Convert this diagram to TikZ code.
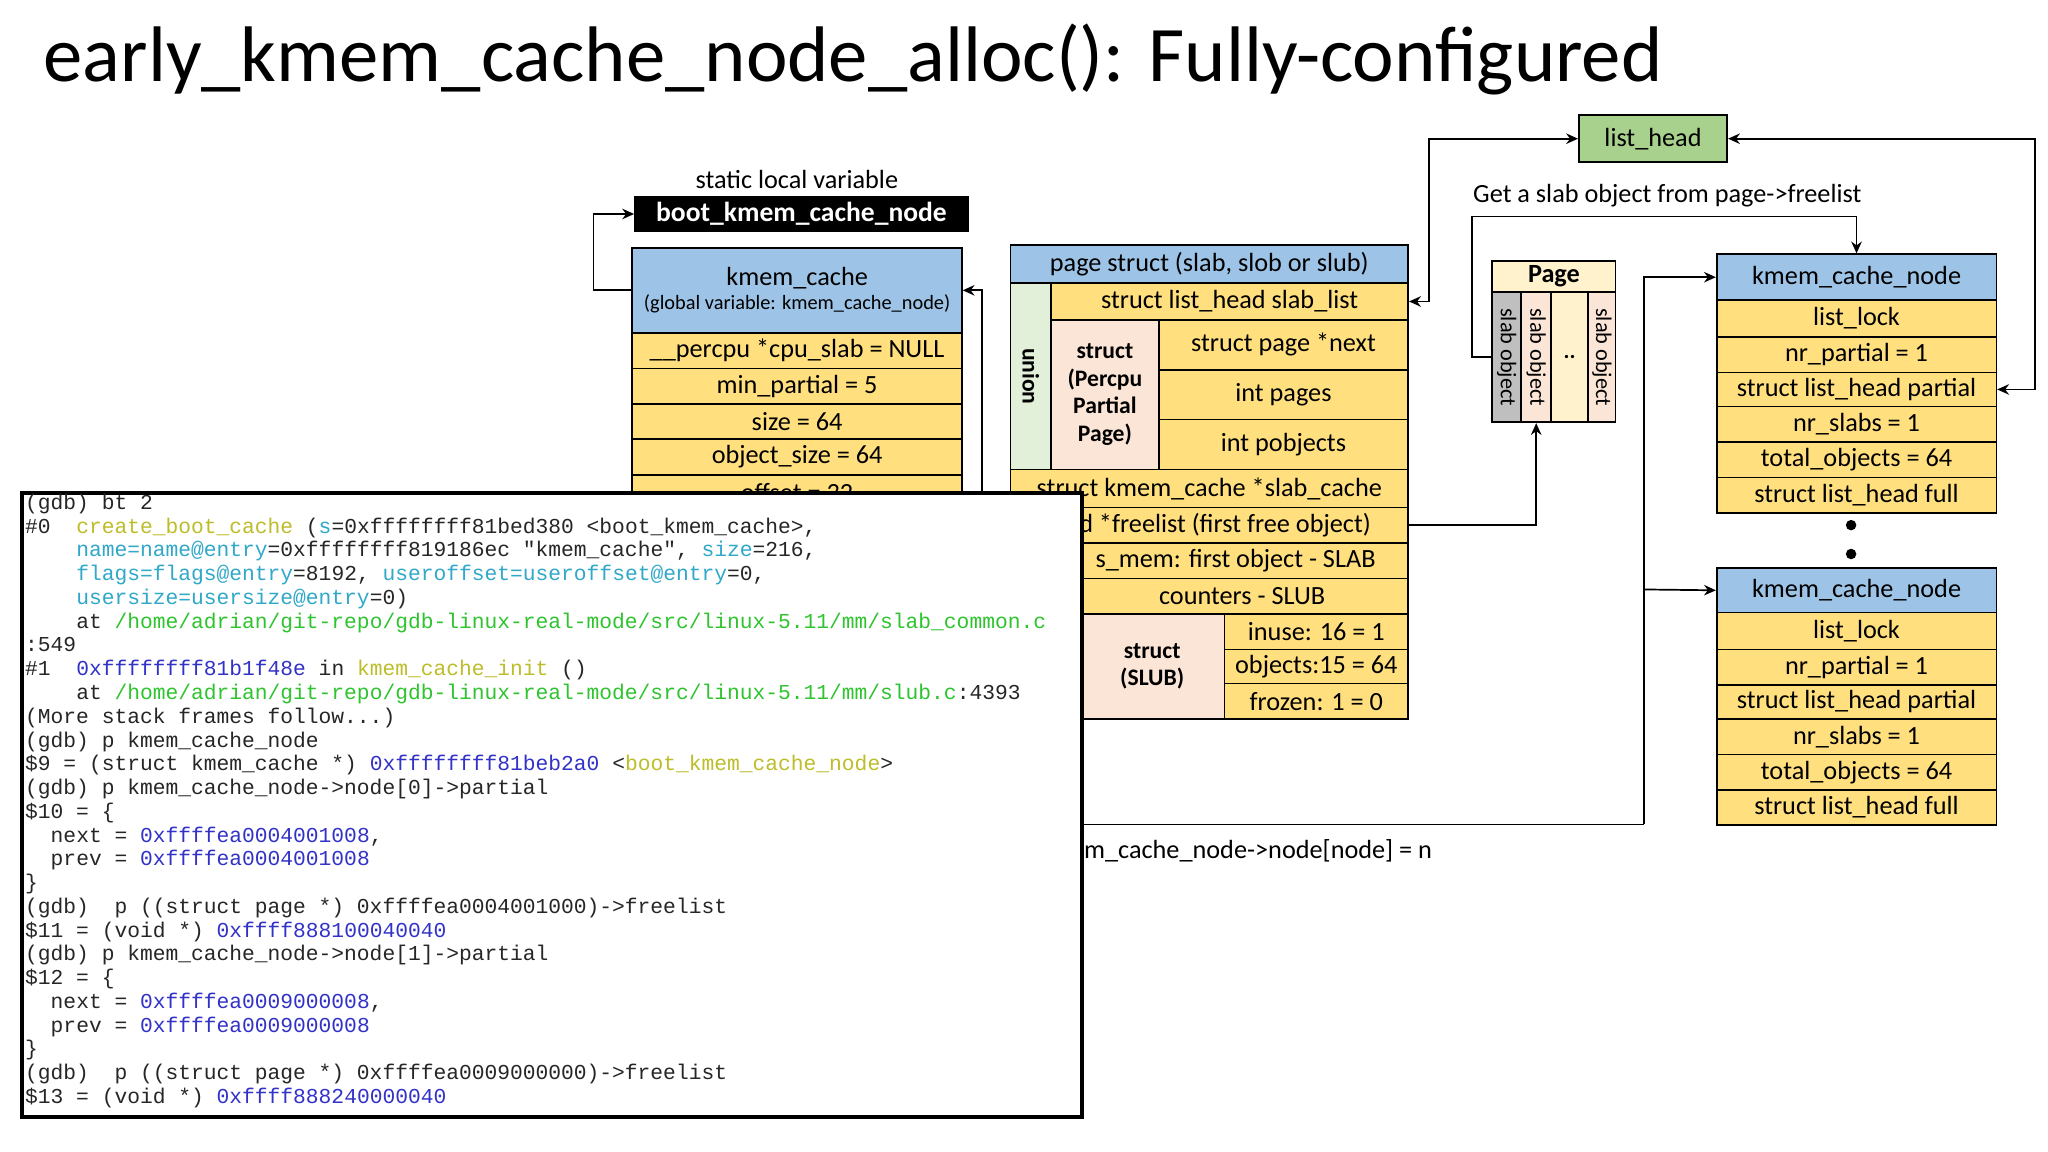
\documentclass[tikz,border=0pt]{standalone}
\usepackage{fontspec}
\setmainfont{Carlito}
\newfontfamily\mono{Liberation Mono}
\usetikzlibrary{arrows.meta}
\definecolor{hblue}{HTML}{9DC3E6}
\definecolor{ylw}{HTML}{FFDF7E}
\definecolor{grn}{HTML}{A9D18E}
\definecolor{pnk}{HTML}{FBE5D6}
\definecolor{lgrn}{HTML}{E2F0D9}
\definecolor{pghd}{HTML}{FFF2CC}
\definecolor{gry}{HTML}{BFBFBF}
\definecolor{tfn}{HTML}{BDBD2A}
\definecolor{tpa}{HTML}{30A8C8}
\definecolor{tpt}{HTML}{2EC42E}
\definecolor{tad}{HTML}{3232C8}
\definecolor{ttx}{HTML}{262626}
\newcommand\fsz[1]{\fontsize{#1pt}{#1pt}\selectfont}
\newcommand\tfn[1]{\textcolor{tfn}{#1}}
\newcommand\tpa[1]{\textcolor{tpa}{#1}}
\newcommand\tpt[1]{\textcolor{tpt}{#1}}
\newcommand\tad[1]{\textcolor{tad}{#1}}
\begin{document}
\begin{tikzpicture}[x=1pt,y=-1pt,
  box/.style={draw,line width=1.3pt,inner sep=0pt,anchor=north west,align=center,font=\fsz{20}},
  row/.style={box,fill=ylw},
  hd/.style={box,fill=hblue},
  arr/.style={line width=1.3pt,-{Stealth[length=9pt,width=8pt]}},
  arr2/.style={line width=1.3pt,{Stealth[length=9pt,width=8pt]}-{Stealth[length=9pt,width=8pt]}},
  tl/.style={anchor=base west,inner sep=0pt,font=\mono\fsz{16.2},text=ttx}]
\useasboundingbox (0,0) rectangle (1560,877.5);
% title
\node[anchor=base west,inner sep=0pt,font=\fsz{60}] (title) at (33,62) {early\_kmem\_cache\_node\_alloc(): Fully-configured};
% kmem_cache
\node[anchor=center,font=\fsz{20}] (slv) at (607,137) {static local variable};
\node[box,fill=black,text=white,font=\bfseries\fsz{21},minimum width=255pt,minimum height=26pt,line width=0pt] (boot) at (483,150) {boot\_kmem\_cache\_node};
\node[hd,minimum width=251pt,minimum height=65pt] (kch) at (481,188) {kmem\_cache\\[-2pt]{\fsz{15.5}(global variable: kmem\_cache\_node)}};
\node[row,minimum width=251pt,minimum height=27pt] (kc1) at (481,253) {\_\_percpu *cpu\_slab = NULL};
\node[row,minimum width=251pt,minimum height=27pt] (kc2) at (481,280) {min\_partial = 5};
\node[row,minimum width=251pt,minimum height=27pt] (kc3) at (481,307) {size = 64};
\node[row,minimum width=251pt,minimum height=27pt] (kc4) at (481,334) {object\_size = 64};
\node[row,minimum width=251pt,minimum height=27pt] (kc5) at (481,361) {offset = 32};
\draw[arr] (kch.west) -- ++(-29,0) |- (boot.west);
\coordinate (kcb) at (748,380);
\draw[arr] (kcb) |- (kch.east);
% page struct
\node[hd,minimum width=303pt,minimum height=29pt] (ps) at (769,186) {page struct (slab, slob or slub)};
\node[box,fill=lgrn,minimum width=31pt,minimum height=142pt] (un) at (769,215) {\rotatebox{-90}{\bfseries\fsz{18}union}};
\node[row,minimum width=272pt,minimum height=28pt] (sl) at (800,215) {struct list\_head slab\_list};
\node[box,fill=pnk,minimum width=82pt,minimum height=114pt,font=\bfseries\fsz{18}] (pp) at (800,243) {struct\\[3pt](Percpu\\[3pt]Partial\\[3pt]Page)};
\node[row,minimum width=190pt,minimum height=38pt] (nx) at (882,243) {struct page *next};
\node[row,minimum width=190pt,minimum height=38pt] (pg) at (882,281) {int pages};
\node[row,minimum width=190pt,minimum height=38pt] (pob) at (882,319) {int pobjects};
\node[row,minimum width=303pt,minimum height=29pt] (sc) at (769,357) {struct kmem\_cache *slab\_cache};
\node[row,minimum width=303pt,minimum height=27pt] (fl) at (769,386) {void *freelist (first free object)};
\node[row,minimum width=303pt,minimum height=27pt] (sm) at (769,413) {\hspace*{40pt}s\_mem: first object - SLAB};
\node[row,minimum width=303pt,minimum height=27pt] (ct) at (769,440) {\hspace*{50pt}counters - SLUB};
\node[box,fill=pnk,minimum width=163pt,minimum height=80pt,font=\bfseries\fsz{18}] (slub) at (769,467) {\hspace*{53pt}\shortstack{struct\\[4pt](SLUB)}};
\node[row,minimum width=140pt,minimum height=27pt] (iu) at (932,467) {inuse: 16 = 1};
\node[row,minimum width=140pt,minimum height=26pt] (ob) at (932,494) {objects:15 = 64};
\node[row,minimum width=140pt,minimum height=27pt] (fz) at (932,520) {frozen: 1 = 0};
% list_head
\node[box,fill=grn,minimum width=113pt,minimum height=36pt] (lh) at (1202,87) {list\_head};
\draw[arr2] (sl.east) -- ++(15,0) |- (lh.west);
% page
\node[box,fill=pghd,minimum width=94pt,minimum height=24pt,font=\bfseries\fsz{20}] (pgh) at (1136,198) {Page};
\node[box,fill=gry,minimum width=22pt,minimum height=99pt,font=\fsz{17}] (so1) at (1136,222) {\rotatebox{-90}{slab object}};
\node[box,fill=pnk,minimum width=23pt,minimum height=99pt,font=\fsz{17}] (so2) at (1158,222) {\rotatebox{-90}{slab object}};
\node[box,fill=pghd,minimum width=28pt,minimum height=99pt,font=\bfseries\fsz{17}] (sod) at (1181,222) {..};
\node[box,fill=pnk,minimum width=21pt,minimum height=99pt,font=\fsz{17}] (so3) at (1209,222) {\rotatebox{-90}{slab object}};
\draw[arr] (fl.east) -| (so2.south);
\node[anchor=center,font=\fsz{20}] (gt) at (1270,149) {Get a slab object from page->freelist};
% kmem_cache_node 1
\node[hd,minimum width=213pt,minimum height=35pt] (n1) at (1307,193) {kmem\_cache\_node};
\node[row,minimum width=213pt,minimum height=28pt] (n1a) at (1307,228) {list\_lock};
\node[row,minimum width=213pt,minimum height=27pt] (n1b) at (1307,256) {nr\_partial = 1};
\node[row,minimum width=213pt,minimum height=26pt] (n1c) at (1307,283) {struct list\_head partial};
\node[row,minimum width=213pt,minimum height=27pt] (n1d) at (1307,309) {nr\_slabs = 1};
\node[row,minimum width=213pt,minimum height=27pt] (n1e) at (1307,336) {total\_objects = 64};
\node[row,minimum width=213pt,minimum height=27pt] (n1f) at (1307,363) {struct list\_head full};
\coordinate (gtc) at (1121,165);
\draw[arr] (so1.west) -- ++(-15,0) |- (gtc) -| (n1.north);
\draw[arr2] (n1c.east) -- ++(29,0) |- (lh.east);
\fill (1410,400) circle (4pt);
\fill (1410,422) circle (4pt);
% kmem_cache_node 2
\node[hd,minimum width=213pt,minimum height=34pt] (n2) at (1307,432) {kmem\_cache\_node};
\node[row,minimum width=213pt,minimum height=28pt] (n2a) at (1307,466) {list\_lock};
\node[row,minimum width=213pt,minimum height=27pt] (n2b) at (1307,494) {nr\_partial = 1};
\node[row,minimum width=213pt,minimum height=26pt] (n2c) at (1307,521) {struct list\_head partial};
\node[row,minimum width=213pt,minimum height=27pt] (n2d) at (1307,547) {nr\_slabs = 1};
\node[row,minimum width=213pt,minimum height=27pt] (n2e) at (1307,574) {total\_objects = 64};
\node[row,minimum width=213pt,minimum height=27pt] (n2f) at (1307,601) {struct list\_head full};
\coordinate (bl) at (700,628);
\coordinate (jn) at (1252,628);
\coordinate (jb) at (1252,449);
\draw[line width=1.3pt] (bl) -- (jn);
\draw[arr] (jn) |- (n1.west);
\draw[arr] (jb) -- (n2.west);
\node[anchor=base east,inner sep=0pt,font=\fsz{20}] (asg) at (1091,654) {kmem\_cache\_node->node[node] = n};
% terminal
\node[draw,line width=3pt,fill=white,minimum width=808pt,minimum height=475pt,anchor=north west,inner sep=0pt] (term) at (15,374) {};
\begin{scope}
\clip (16.5,375.5) rectangle (821.5,847.5);
\node[tl] (t1) at (19,388.0) {(gdb) bt 2};
\node[tl] (t2) at (19,406.1) {\#0\ \ \tfn{create\_boot\_cache} (\tpa{s}=0xffffffff81bed380 <boot\_kmem\_cache>,};
\node[tl] (t3) at (19,424.2) {\ \ \ \ \tpa{name=name@entry}=0xffffffff819186ec "kmem\_cache", \tpa{size}=216,};
\node[tl] (t4) at (19,442.3) {\ \ \ \ \tpa{flags=flags@entry}=8192, \tpa{useroffset=useroffset@entry}=0,};
\node[tl] (t5) at (19,460.4) {\ \ \ \ \tpa{usersize=usersize@entry}=0)};
\node[tl] (t6) at (19,478.5) {\ \ \ \ at \tpt{/home/adrian/git-repo/gdb-linux-real-mode/src/linux-5.11/mm/slab\_common.c}};
\node[tl] (t7) at (19,496.6) {:549};
\node[tl] (t8) at (19,514.7) {\#1\ \ \tad{0xffffffff81b1f48e} in \tfn{kmem\_cache\_init} ()};
\node[tl] (t9) at (19,532.8) {\ \ \ \ at \tpt{/home/adrian/git-repo/gdb-linux-real-mode/src/linux-5.11/mm/slub.c}:4393};
\node[tl] (t10) at (19,550.9) {(More stack frames follow...)};
\node[tl] (t11) at (19,569.0) {(gdb) p kmem\_cache\_node};
\node[tl] (t12) at (19,587.1) {\$9 = (struct kmem\_cache *) \tad{0xffffffff81beb2a0} <\tfn{boot\_kmem\_cache\_node}>};
\node[tl] (t13) at (19,605.2) {(gdb) p kmem\_cache\_node->node[0]->partial};
\node[tl] (t14) at (19,623.3) {\$10 = \{};
\node[tl] (t15) at (19,641.4) {\ \ next = \tad{0xffffea0004001008},};
\node[tl] (t16) at (19,659.5) {\ \ prev = \tad{0xffffea0004001008}};
\node[tl] (t17) at (19,677.6) {\}};
\node[tl] (t18) at (19,695.7) {(gdb)\ \ p ((struct page *) 0xffffea0004001000)->freelist};
\node[tl] (t19) at (19,713.8) {\$11 = (void *) \tad{0xffff888100040040}};
\node[tl] (t20) at (19,731.9) {(gdb) p kmem\_cache\_node->node[1]->partial};
\node[tl] (t21) at (19,750.0) {\$12 = \{};
\node[tl] (t22) at (19,768.1) {\ \ next = \tad{0xffffea0009000008},};
\node[tl] (t23) at (19,786.2) {\ \ prev = \tad{0xffffea0009000008}};
\node[tl] (t24) at (19,804.3) {\}};
\node[tl] (t25) at (19,822.4) {(gdb)\ \ p ((struct page *) 0xffffea0009000000)->freelist};
\node[tl] (t26) at (19,840.5) {\$13 = (void *) \tad{0xffff888240000040}};
\end{scope}
\end{tikzpicture}
\end{document}
